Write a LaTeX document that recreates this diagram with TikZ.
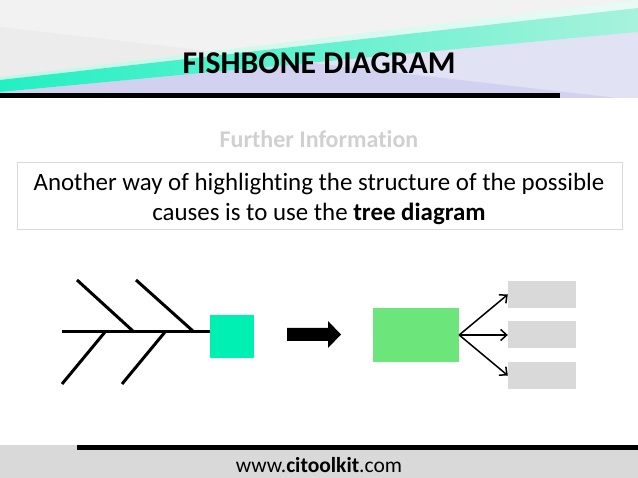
\documentclass[tikz,border=0pt]{standalone}
\usepackage{fontspec}
\setmainfont{Carlito}[Ligatures=NoCommon]
\usetikzlibrary{arrows.meta,positioning,calc}

\definecolor{hdrgray}{HTML}{F2F2F2}
\definecolor{hdrshade}{HTML}{ECECEC}
\definecolor{lavlight}{HTML}{E2E2F5}
\definecolor{lavdark}{HTML}{D2D2F0}
\definecolor{mintdeep}{HTML}{22F0C2}
\definecolor{mintpale}{HTML}{A8F2DC}
\definecolor{mintedge}{HTML}{C4F6E6}
\definecolor{causeteal}{HTML}{00F0B4}
\definecolor{rootgreen}{HTML}{6CE57A}
\definecolor{leafgray}{HTML}{D9D9D9}
\definecolor{infogray}{HTML}{D0D0D0}

\begin{document}
\begin{tikzpicture}[
    x=1pt, y=-1pt,
    bone/.style={line width=3pt},
    branch/.style={line width=1.5pt, -{Straight Barb[length=6pt,width=11pt]}},
    effectbox/.style={
        rectangle,
        fill=causeteal,
        minimum width=44pt,
        minimum height=43pt,
        inner sep=0pt
    },
    rootbox/.style={
        rectangle,
        fill=rootgreen,
        minimum width=86pt,
        minimum height=54pt,
        inner sep=0pt
    },
    leafbox/.style={
        rectangle,
        fill=leafgray,
        minimum width=68pt,
        minimum height=27pt,
        inner sep=0pt
    }
]
\useasboundingbox (0,0) rectangle (638,478);

% ---------------- Header ----------------
\fill[hdrgray] (0,0) rectangle (638,98);
\fill[hdrshade] (0,27) -- (617,98) -- (0,98) -- cycle;
\fill[lavlight] (0,92) -- (638,32) -- (638,98) -- (0,98) -- cycle;
\begin{scope}
    \clip (0,92) -- (638,32) -- (638,98) -- (0,98) -- cycle;
    \fill[lavdark] (0,27) -- (617,98) -- (0,98) -- cycle;
\end{scope}
\shade[left color=mintedge, right color=white!60!mintedge]
    (0,77) -- (638,0) -- (638,8) -- (0,80) -- cycle;
\shade[left color=mintdeep, right color=mintpale]
    (0,80) -- (638,8) -- (638,32) -- (0,92) -- cycle;
\fill[black] (0,93) rectangle (560,98);

\node[font=\bfseries\fontsize{31.7}{36}\selectfont] (title) at (319,63) {FISHBONE DIAGRAM};

% ---------------- Text box ----------------
\node[font=\bfseries\fontsize{24}{28}\selectfont, text=infogray] (info) at (319,139) {Further Information};
\draw[leafgray, line width=0.8pt] (17,162) rectangle (622,229);
\node[font=\fontsize{24.9}{30}\selectfont, align=center] (note) at (319,199)
    {Another way of highlighting the structure of the possible\\
     causes is to use the \textbf{tree diagram}};

% ---------------- Fishbone ----------------
\node[effectbox] (effect) at (232,336.5) {};
\coordinate (tail) at (62,332);
\draw[bone] (tail) -- (effect.west |- tail);
\draw[bone] (77,280) -- (134,332);
\draw[bone] (136,280) -- (194,332);
\draw[bone] (105,332) -- (62,384);
\draw[bone] (165,332) -- (122,384);

% ---------------- Conversion arrow ----------------
\fill[black] (287,328) -- (328,328) -- (328,321) -- (341,334.5)
    -- (328,348) -- (328,341) -- (287,341) -- cycle;

% ---------------- Tree ----------------
\node[rootbox] (root) at (416,335) {};
\node[leafbox] (leafA) at (542,294.5) {};
\node[leafbox] (leafB) at (542,335) {};
\node[leafbox] (leafC) at (542,375.5) {};
\draw[branch] (root.east) -- (leafA.west);
\draw[branch] (root.east) -- (leafB.west);
\draw[branch] (root.east) -- (leafC.west);

% ---------------- Footer ----------------
\fill[leafgray] (0,445) rectangle (638,478);
\fill[black] (77,445) rectangle (638,450);
\node[font=\fontsize{21.5}{24}\selectfont] (site) at (319,465) {www.\textbf{citoolkit}.com};

\end{tikzpicture}
\end{document}
